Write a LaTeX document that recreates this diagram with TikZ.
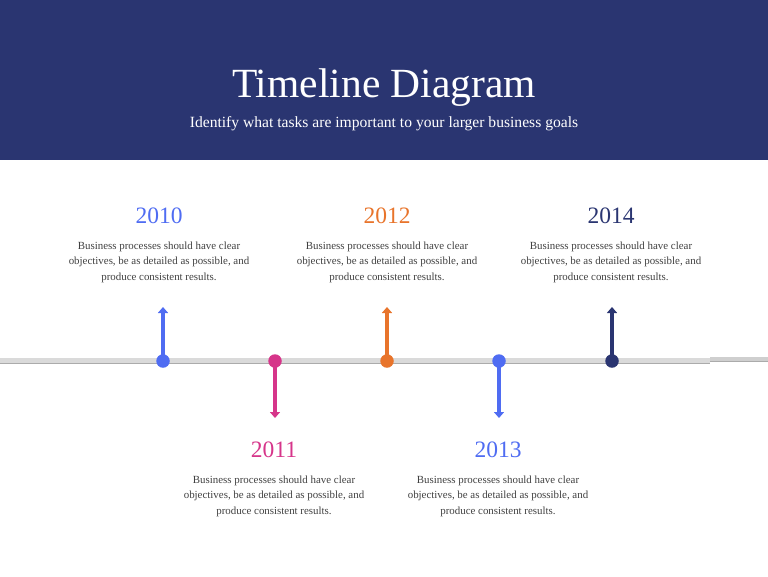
\documentclass[tikz,border=0pt]{standalone}
\usepackage{fontspec}
\setmainfont{Liberation Serif}
\usetikzlibrary{arrows.meta}
\definecolor{navy}{HTML}{2A3571}
\definecolor{cblue}{HTML}{4F6CF2}
\definecolor{cmag}{HTML}{D6358A}
\definecolor{corange}{HTML}{E8742B}
\definecolor{bodygray}{HTML}{404040}
\definecolor{bandgray}{HTML}{DADADA}
\definecolor{banddark}{HTML}{ABABAB}
\tikzset{
  yearlbl/.style={anchor=base, inner sep=0pt, font=\fontsize{23.5}{28}\selectfont},
  bodytxt/.style={anchor=base, inner sep=0pt, align=center, text=bodygray, font=\fontsize{10.9}{15.5}\selectfont},
  dot/.style={circle, minimum size=13.5pt, inner sep=0pt, draw=none},
  arr/.style={line width=3.2pt, -{Triangle[width=10pt,length=6pt]}},
}
\begin{document}
\begin{tikzpicture}[x=1pt,y=-1pt]
\useasboundingbox (0,0) rectangle (768,576);
% header
\fill[navy] (0,0) rectangle (768,160);
\node[anchor=base, inner sep=0pt, text=white, font=\fontsize{41.5}{48}\selectfont] (title) at (384,97) {Timeline Diagram};
\node[anchor=base, inner sep=0pt, text=white, font=\fontsize{15.6}{18}\selectfont] (subtitle) at (384,127) {Identify what tasks are important to your larger business goals};
% timeline band
\fill[bandgray] (0,357.8) rectangle (710,363.2);
\fill[banddark] (0,363) rectangle (710,364.3);
\fill[bandgray!95!black] (710,356.5) rectangle (768,361.2);
\fill[banddark] (710,361) rectangle (768,362.3);
% coordinates
\coordinate (p1) at (163,361); \coordinate (t1) at (163,307);
\coordinate (p2) at (275,361); \coordinate (t2) at (275,418);
\coordinate (p3) at (387,361); \coordinate (t3) at (387,307);
\coordinate (p4) at (499,361); \coordinate (t4) at (499,418);
\coordinate (p5) at (612,361); \coordinate (t5) at (612,307);
\draw[arr, cblue] (p1) -- (t1);
\draw[arr, cmag] (p2) -- (t2);
\draw[arr, corange] (p3) -- (t3);
\draw[arr, cblue] (p4) -- (t4);
\draw[arr, navy] (p5) -- (t5);
\node[dot, fill=cblue] (d1) at (p1) {};
\node[dot, fill=cmag] (d2) at (p2) {};
\node[dot, fill=corange] (d3) at (p3) {};
\node[dot, fill=cblue] (d4) at (p4) {};
\node[dot, fill=navy] (d5) at (p5) {};
% labels
\node[yearlbl, text=cblue] (y1) at (159,223) {2010};
\node[bodytxt] (b1) at (159,280) {Business processes should have clear\\objectives, be as detailed as possible, and\\produce consistent results.};
\node[yearlbl, text=cmag] (y2) at (274,457) {2011};
\node[bodytxt] (b2) at (274,514) {Business processes should have clear\\objectives, be as detailed as possible, and\\produce consistent results.};
\node[yearlbl, text=corange] (y3) at (387,223) {2012};
\node[bodytxt] (b3) at (387,280) {Business processes should have clear\\objectives, be as detailed as possible, and\\produce consistent results.};
\node[yearlbl, text=cblue] (y4) at (498,457) {2013};
\node[bodytxt] (b4) at (498,514) {Business processes should have clear\\objectives, be as detailed as possible, and\\produce consistent results.};
\node[yearlbl, text=navy] (y5) at (611,223) {2014};
\node[bodytxt] (b5) at (611,280) {Business processes should have clear\\objectives, be as detailed as possible, and\\produce consistent results.};
\end{tikzpicture}
\end{document}
